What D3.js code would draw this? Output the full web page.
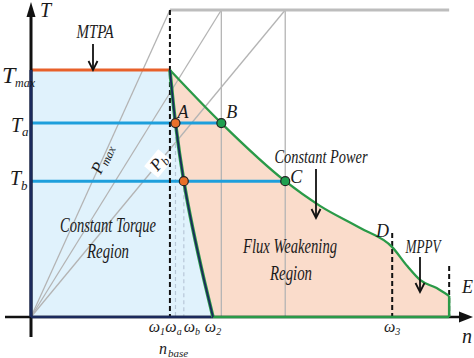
<!DOCTYPE html>
<html lang="en">
<head>
<meta charset="utf-8">
<title>Torque-speed regions</title>
<script src="https://d3js.org/d3.v7.min.js"></script>
<style>
  body { margin: 0; background: #fff; }
  text { font-family: "Liberation Serif", "DejaVu Serif", serif; font-style: italic; fill: #1a1a1a; }
</style>
</head>
<body>
<script>
var w = 474, h = 358;

// torque levels, per unit of Tmax
var torqueNames = ["max", "a", "b"];
var torqueValues = [1, 0.785, 0.55];

// speed ticks, per unit of base speed
var tickNames = ["1", "a", "b", "2", "3"];
var tickSpeeds = [1, 1.04, 1.10, 1.31, 2.6];

// current/voltage limit curve (Tmax corner down to the axis)
var limitSpeed = [1, 1.04, 1.10, 1.25, 1.31];
var limitTorque = [1, 0.785, 0.55, 0.14, 0];

// outer envelope: constant power, then MPPV down to E
var envSpeed = [1, 1.37, 1.83, 2.08, 2.37, 2.6, 2.71, 2.8, 2.92, 3.01];
var envTorque = [1, 0.785, 0.55, 0.45, 0.36, 0.283, 0.205, 0.15, 0.117, 0.085];

// marked points
var pointNames = ["A", "", "B", "C"];
var pointSpeed = [1.04, 1.10, 1.37, 1.83];
var pointTorque = [0.785, 0.55, 0.785, 0.55];

// power lines from the origin, ending on the top line at these speeds
var powerEnds = [1, 1.37, 1.83];
var topTorque = 1.243;
var maxSpeed = 3.16;

var svg = d3.select("body").append("svg")
    .attr("width", w)
    .attr("height", h);

var x = d3.scaleLinear().domain([0, maxSpeed]).range([31, 470]);
var y = d3.scaleLinear().domain([0, topTorque]).range([317, 10]);

var navy = "#1b2a5c", green = "#2a9a48", orange = "#e8602a", blue = "#1e9fdc";

var lineX = d3.line().x(d => x(d[0])).y(d => y(d[1])).curve(d3.curveMonotoneX);
var lineY = d3.line().x(d => x(d[0])).y(d => y(d[1])).curve(d3.curveMonotoneY);
var limitPts = limitSpeed.map((s, i) => [s, limitTorque[i]]);
var envPts = envSpeed.map((s, i) => [s, envTorque[i]]);
var eEnd = envSpeed[envSpeed.length - 1];

// regions
svg.append("path")
    .attr("d", lineY([[0, 0], [0, 1]].concat(limitPts)) + "Z")
    .attr("fill", "#e0f2fc");

svg.append("path")
    .attr("d", lineY(limitPts.slice().reverse())
       + lineX(envPts).replace("M", "L")
       + "L" + x(eEnd) + "," + y(0) + "Z")
    .attr("fill", "#fadccb");

// power lines from origin
svg.selectAll("line.power").data(powerEnds).enter().append("line")
    .attr("class", "power")
    .attr("x1", x(0)).attr("y1", y(0))
    .attr("x2", d => x(d)).attr("y2", y(topTorque))
    .attr("stroke", "#b4b4b4").attr("stroke-width", 1.3);

// gray verticals at B and C, and top line
svg.selectAll("line.vert").data(powerEnds.slice(1)).enter().append("line")
    .attr("class", "vert")
    .attr("x1", d => x(d)).attr("x2", d => x(d))
    .attr("y1", y(topTorque)).attr("y2", y(0))
    .attr("stroke", "#b4b4b4").attr("stroke-width", 1.3);
svg.append("line")
    .attr("x1", x(1)).attr("x2", x(eEnd))
    .attr("y1", y(topTorque)).attr("y2", y(topTorque))
    .attr("stroke", "#bdbdbd").attr("stroke-width", 3);

// light dashed lines under A and the lower orange point
svg.selectAll("line.light").data([0, 1]).enter().append("line")
    .attr("x1", i => x(pointSpeed[i])).attr("x2", i => x(pointSpeed[i]))
    .attr("y1", i => y(pointTorque[i])).attr("y2", y(0))
    .attr("stroke", "#b8c8d8").attr("stroke-width", 1.2)
    .attr("stroke-dasharray", "4,3");

// torque level lines
svg.append("line")
    .attr("x1", x(0)).attr("x2", x(1))
    .attr("y1", y(torqueValues[0])).attr("y2", y(torqueValues[0]))
    .attr("stroke", orange).attr("stroke-width", 3);
svg.selectAll("line.lvl").data([1, 2]).enter().append("line")
    .attr("x1", x(0)).attr("x2", i => x(pointSpeed[i + 1]))
    .attr("y1", i => y(torqueValues[i])).attr("y2", i => y(torqueValues[i]))
    .attr("stroke", blue).attr("stroke-width", 3);

// black dashed verticals: base speed, omega3, E
var dashes = [[1, topTorque], [tickSpeeds[4], 0.34], [eEnd, 0.206]];
svg.selectAll("line.dash").data(dashes).enter().append("line")
    .attr("x1", d => x(d[0])).attr("x2", d => x(d[0]))
    .attr("y1", d => y(d[1])).attr("y2", y(0))
    .attr("stroke", "#111").attr("stroke-width", 2)
    .attr("stroke-dasharray", "5,3");

// axes
svg.append("line").attr("x1", x(0)).attr("x2", x(0)).attr("y1", 337).attr("y2", 12)
    .attr("stroke", "#111").attr("stroke-width", 3);
svg.append("path").attr("d", "M" + x(0) + ",2 L" + (x(0) - 4.5) + ",17 L" + (x(0) + 4.5) + ",17Z")
    .attr("fill", "#111");
svg.append("line").attr("x1", 5).attr("x2", 462).attr("y1", y(0)).attr("y2", y(0))
    .attr("stroke", "#111").attr("stroke-width", 2.5);
svg.append("path").attr("d", "M473," + y(0) + " L459," + (y(0) - 5.5) + " L459," + (y(0) + 5.5) + "Z")
    .attr("fill", "#111");

// region borders
svg.append("line").attr("x1", x(0)).attr("x2", x(0)).attr("y1", y(0)).attr("y2", y(1))
    .attr("stroke", navy).attr("stroke-width", 3);
svg.append("line").attr("x1", x(0)).attr("x2", x(1.31)).attr("y1", y(0)).attr("y2", y(0))
    .attr("stroke", navy).attr("stroke-width", 2.5);
svg.append("line").attr("x1", x(1.31)).attr("x2", x(eEnd)).attr("y1", y(0)).attr("y2", y(0))
    .attr("stroke", green).attr("stroke-width", 2.5);
svg.append("line").attr("x1", x(eEnd)).attr("x2", x(eEnd)).attr("y1", y(0)).attr("y2", y(envTorque[envTorque.length - 1]))
    .attr("stroke", green).attr("stroke-width", 2.5);
svg.append("path").attr("d", lineX(envPts))
    .attr("fill", "none").attr("stroke", green).attr("stroke-width", 2.3);
svg.append("path").attr("d", lineY(limitPts))
    .attr("fill", "none").attr("stroke", green).attr("stroke-width", 3.5);
svg.append("path").attr("d", lineY(limitPts))
    .attr("fill", "none").attr("stroke", navy).attr("stroke-width", 1.8);

// points
svg.selectAll("circle").data(pointSpeed).enter().append("circle")
    .attr("cx", d => x(d))
    .attr("cy", (d, i) => y(pointTorque[i]))
    .attr("r", 4.5)
    .attr("fill", (d, i) => i < 2 ? "#e8702a" : "#1fa050")
    .attr("stroke", "#222").attr("stroke-width", 1.2);

// labels
function sublabel(px, py, main, sub, size, subSize, sdx, sdy) {
  var t = svg.append("text").attr("x", px).attr("y", py).style("font-size", size + "px");
  t.append("tspan").text(main);
  t.append("tspan").attr("x", px + sdx).attr("dy", sdy).style("font-size", subSize + "px").text(sub);
  return t;
}
function plain(px, py, s, size, len) {
  var t = svg.append("text").attr("x", px).attr("y", py).attr("text-anchor", "middle")
      .style("font-size", size + "px").text(s);
  if (len) t.attr("textLength", len).attr("lengthAdjust", "spacingAndGlyphs");
  return t;
}

svg.append("text").attr("x", 40).attr("y", 17).style("font-size", "20px").text("T");
sublabel(2, y(torqueValues[0]) + 13, "T", torqueNames[0], 24, 12, 13, 4);
sublabel(11, y(torqueValues[1]) + 9, "T", torqueNames[1], 20, 13, 11, 4);
sublabel(10, y(torqueValues[2]) + 4, "T", torqueNames[2], 20, 13, 11, 5);

var tickNudge = {"1": -13, "a": -2, "b": 8};
tickNames.forEach(function (nm, i) {
  var cx = x(tickSpeeds[i]) + (tickNudge[nm] || 0);
  var t = svg.append("text").attr("x", cx).attr("y", 332).attr("text-anchor", "middle")
      .style("font-size", "16px");
  t.append("tspan").text("\u03c9");
  t.append("tspan").attr("dy", 3).style("font-size", "10px").text(nm);
});
sublabel(159, 354, "n", "base", 16, 11, 9, 3);
svg.append("text").attr("x", 462).attr("y", 343).style("font-size", "20px").text("n");

pointNames.forEach(function (nm, i) {
  if (!nm) return;
  svg.append("text").attr("x", x(pointSpeed[i]) + (i ? 5 : 2)).attr("y", y(pointTorque[i]) + (i == 3 ? 2 : -5))
      .style("font-size", "18px").text(nm);
});
svg.append("text").attr("x", 376).attr("y", 237).style("font-size", "18px").text("D");
svg.append("text").attr("x", 462).attr("y", 293).style("font-size", "18px").text("E");

plain(95, 38, "MTPA", 19, 37);
plain(321, 163, "Constant Power", 19, 93);
plain(290, 253, "Flux Weakening", 20, 94);
plain(291, 280, "Region", 20, 42);
plain(108, 232, "Constant Torque", 20, 96);
plain(108, 258, "Region", 20, 42);
plain(423, 253, "MPPV", 18, 35);

// annotation arrows
function arrow(px, y1, y2) {
  svg.append("line").attr("x1", px).attr("x2", px).attr("y1", y1).attr("y2", y2)
      .attr("stroke", "#111").attr("stroke-width", 1.8);
  svg.append("path").attr("d", "M" + (px - 4.5) + "," + (y2 - 9) + " L" + px + "," + y2 + " L" + (px + 4.5) + "," + (y2 - 9))
      .attr("fill", "none").attr("stroke", "#111").attr("stroke-width", 1.8);
}
arrow(93, 44, y(1));
arrow(316, 169, 218);
arrow(420, 257, 292);

// rotated power labels along the gray lines
function powerLabel(endSpeed, frac, sub, box) {
  var x0 = x(0), y0 = y(0), x1 = x(endSpeed), y1 = y(topTorque);
  var ang = Math.atan2(y1 - y0, x1 - x0) * 180 / Math.PI;
  var cx = x0 + (x1 - x0) * frac, cy = y0 + (y1 - y0) * frac;
  var g = svg.append("g").attr("transform", "translate(" + cx + "," + cy + ") rotate(" + ang + ")");
  if (box) g.append("rect").attr("x", -11).attr("y", -9).attr("width", 22).attr("height", 18).attr("fill", "#fff");
  var t = g.append("text").attr("x", -7).attr("y", 5).style("font-size", "17px");
  t.append("tspan").text("P");
  t.append("tspan").attr("dy", 3).style("font-size", "12px").text(sub);
}
powerLabel(powerEnds[0], 0.49, "max", false);
powerLabel(powerEnds[2], 0.50, "b", true);
</script>
</body>
</html>
